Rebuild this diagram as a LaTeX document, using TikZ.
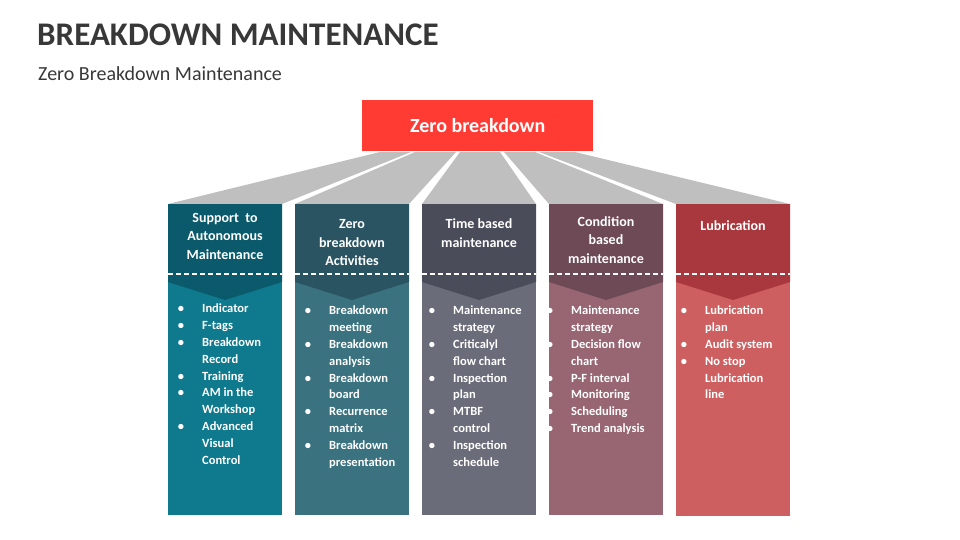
\documentclass[tikz,border=0pt]{standalone}
\usepackage{fontspec}
\setmainfont{Carlito}
\begin{document}
\begin{tikzpicture}[x=1pt,y=-1pt,
  hdr/.style={text=white,font=\bfseries\fontsize{14}{18.5}\selectfont,align=center},
  lst/.style={anchor=north west,text=white,font=\bfseries\fontsize{12.5}{16.8}\selectfont,align=left,inner sep=0pt},
  fan/.style={fill=black!25,draw=none}]
\useasboundingbox (0,0) rectangle (960,540);
\node[anchor=west,text=black!78,font=\bfseries\fontsize{33}{36}\selectfont,inner sep=0] (title) at (37,35) {BREAKDOWN MAINTENANCE};
\node[anchor=west,text=black!78,font=\fontsize{20}{24}\selectfont,inner sep=0] (sub) at (38,74) {Zero Breakdown Maintenance};
% fans
\fill[fan] (168,204) -- (282,204) -- (411,152) -- (380,152) -- cycle;
\fill[fan] (295,204) -- (409,204) -- (456,152) -- (415,152) -- cycle;
\fill[fan] (422,204) -- (536,204) -- (500,152) -- (460,152) -- cycle;
\fill[fan] (549,204) -- (663,204) -- (535,152) -- (504,152) -- cycle;
\fill[fan] (676,204) -- (790,204) -- (575,152) -- (539,152) -- cycle;
\node[fill={rgb,255:red,255;green,59;blue,51},minimum width=231pt,minimum height=51pt,anchor=north west,inner sep=0] (top) at (362,100) {};
\node[text=white,font=\bfseries\fontsize{20}{24}\selectfont] (toptxt) at (top.center) {Zero breakdown};
% columns
\def\col#1#2#3#4{%
  \fill[#3] (#1,282) rectangle (#1+114,#2);
  \fill[#4] (#1,204) -- (#1+114,204) -- (#1+114,282) -- (#1+57,300) -- (#1,282) -- cycle;
  \draw[white,dashed,dash pattern=on 5pt off 3pt,line width=1.2pt] (#1,274) -- (#1+114,274);}
\definecolor{h1}{HTML}{0B5A6B}\definecolor{b1}{HTML}{0F798E}
\definecolor{h2}{HTML}{2A5462}\definecolor{b2}{HTML}{3A7280}
\definecolor{h3}{HTML}{4B4C5A}\definecolor{b3}{HTML}{6B6C7A}
\definecolor{h4}{HTML}{6D4A55}\definecolor{b4}{HTML}{986672}
\definecolor{h5}{HTML}{A8383D}\definecolor{b5}{HTML}{CD5F60}
\col{168}{515}{b1}{h1}
\col{295}{515}{b2}{h2}
\col{422}{515}{b3}{h3}
\col{549}{515}{b4}{h4}
\col{676}{516}{b5}{h5}
\def\bl{\llap{\textbullet\hspace{18pt}}}
\node[hdr] (c1) at (225,236) {Support\ \ to\\Autonomous\\Maintenance};
\node[hdr] (c2) at (352,243) {Zero\\breakdown\\Activities};
\node[hdr] (c3) at (479,233) {Time based\\maintenance};
\node[hdr] (c4) at (606,240) {Condition\\based\\maintenance};
\node[hdr] (c5) at (733,226) {Lubrication};
\node[lst] (l1) at (202,304) {\bl Indicator\\\bl F-tags\\\bl Breakdown\\Record\\\bl Training\\\bl AM in the\\Workshop\\\bl Advanced\\Visual\\Control};
\node[lst] (l2) at (329,306) {\bl Breakdown\\meeting\\\bl Breakdown\\analysis\\\bl Breakdown\\board\\\bl Recurrence\\matrix\\\bl Breakdown\\presentation};
\node[lst] (l3) at (453,306) {\bl Maintenance\\strategy\\\bl Criticalyl\\flow chart\\\bl Inspection\\plan\\\bl MTBF\\control\\\bl Inspection\\schedule};
\node[lst] (l4) at (571,306) {\bl Maintenance\\strategy\\\bl Decision flow\\chart\\\bl P-F interval\\\bl Monitoring\\\bl Scheduling\\\bl Trend analysis};
\node[lst] (l5) at (705,306) {\bl Lubrication\\plan\\\bl Audit system\\\bl No stop\\Lubrication\\line};
\end{tikzpicture}
\end{document}
